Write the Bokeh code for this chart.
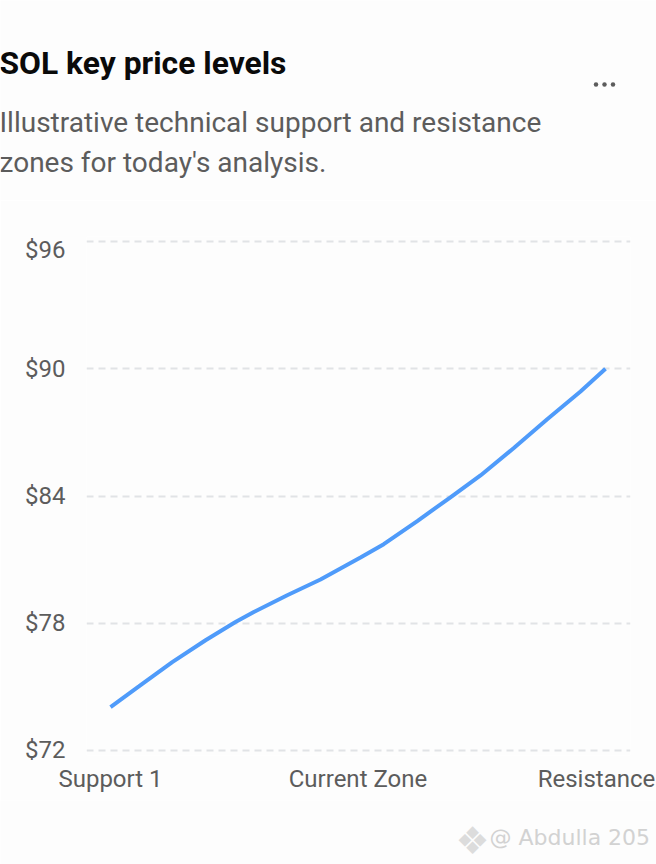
from bokeh.plotting import figure
from bokeh.layouts import column
from bokeh.models import Label, FixedTicker, Range1d
from bokeh.embed import file_html
from bokeh.resources import INLINE

# Data
positions = [0, 0.229, 0.499, 0.768, 1.01, 1.158, 1.428, 1.697, 2.02, 2.208, 2.479, 2.747, 2.99, 3.257, 3.529, 3.798, 4.0]
prices = [74.05, 75.02, 76.17, 77.20, 78.06, 78.53, 79.32, 80.06, 81.10, 81.73, 82.82, 83.94, 84.97, 86.25, 87.62, 88.93, 90.0]
grid_levels = [72, 78, 84, 90, 96]
y_tick_pos = [72, 78, 84, 90, 95.6]
y_tick_labels = ["$72", "$78", "$84", "$90", "$96"]
x_tick_pos = [0, 2, 3.927]
x_tick_labels = ["Support 1", "Current Zone", "Resistance"]
title = "SOL key price levels"
subtitle = ["Illustrative technical support and resistance", "zones for today's analysis."]
watermark = "@ Abdulla 205"

BG = "#fdfdfd"
W = 656
HEAD_H, CHART_H, FOOT_H = 200, 600, 64


def blank(h):
    f = figure(width=W, height=h, output_backend="svg", toolbar_location=None,
               x_range=Range1d(0, W), y_range=Range1d(0, h), frame_align=False,
               min_border=0, background_fill_color=BG, border_fill_color=BG,
               outline_line_color=None)
    f.axis.visible = False
    f.grid.visible = False
    return f


def txt(f, h, x, y, s, size, color, style="normal", font="Roboto"):
    f.add_layout(Label(x=x, y=h - y, x_units="screen", y_units="screen", text=s,
                       text_font=font, text_font_size=size, text_color=color,
                       text_font_style=style, text_baseline="alphabetic"))


head = blank(HEAD_H)
txt(head, HEAD_H, -1, 62, title, "31.8px", "#0a0a0a", "bold")
txt(head, HEAD_H, -1, 122, subtitle[0], "28px", "#5c5c5c")
txt(head, HEAD_H, -1, 162, subtitle[1], "28px", "#5c5c5c")
head.scatter([595.5, 604, 612.5], [116, 116, 116], size=4.5, marker="circle",
             fill_color="#5c5c5c", line_color=None)

# frame spans page y 236..755 -> within this figure (starting at page y 200): top 36, bottom 555
p = figure(width=W, height=CHART_H, output_backend="svg", toolbar_location=None,
           x_range=Range1d(-0.194, 4.202), y_range=Range1d(71.764, 96.236), frame_align=False,
           min_border_left=86, min_border_right=26, min_border_top=36, min_border_bottom=45,
           background_fill_color=BG, border_fill_color=BG, outline_line_color=None)

p.xgrid.visible = False
p.ygrid.ticker = FixedTicker(ticks=grid_levels)
p.ygrid.grid_line_color = "#e1e3e6"
p.ygrid.grid_line_width = 2
p.ygrid.grid_line_dash = "7 5"

p.yaxis.ticker = FixedTicker(ticks=y_tick_pos)
p.yaxis.major_label_overrides = dict(zip(y_tick_pos, y_tick_labels))
p.xaxis.ticker = FixedTicker(ticks=x_tick_pos)
p.xaxis.major_label_overrides = dict(zip(x_tick_pos, x_tick_labels))
for ax in (p.xaxis[0], p.yaxis[0]):
    ax.axis_line_color = None
    ax.major_tick_line_color = None
    ax.minor_tick_line_color = None
    ax.major_tick_in = 0
    ax.major_tick_out = 0
    ax.major_label_text_font = "Roboto"
    ax.major_label_text_font_size = "24px"
    ax.major_label_text_color = "#5c5c5c"
p.yaxis.major_label_standoff = 21
p.xaxis.major_label_standoff = 9

p.line(positions, prices, line_color="#4f9bfa", line_width=4)

foot = blank(FOOT_H)
txt(foot, FOOT_H, 455, 40, "❖", "38px", "#dcdcdc", font="DejaVu Sans")
txt(foot, FOOT_H, 489, 37, watermark, "22px", "#d2d2d2", font="DejaVu Sans")

page = column(head, p, foot, spacing=0)
html = file_html(page, INLINE)
html = html.replace("<head>", "<head><style>html,body{margin:0;padding:0}</style>", 1)
open("out.html", "w").write(html)
